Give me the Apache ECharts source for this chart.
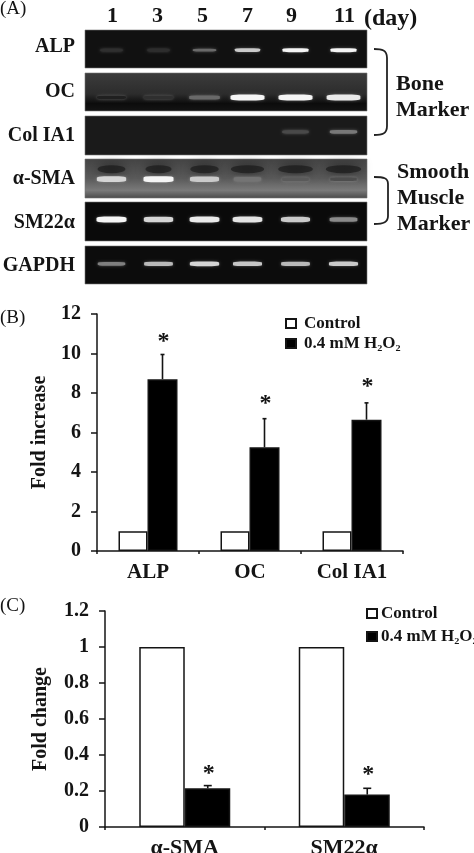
<!DOCTYPE html>
<html><head><meta charset="utf-8">
<style>html,body{margin:0;padding:0;background:#fff;overflow:hidden}#c{width:474px;height:853px;filter:blur(0.45px)}</style>
<script src="https://cdn.jsdelivr.net/npm/echarts@6/dist/echarts.min.js"></script>
</head><body><div id="c"></div>
<script>
// ---- data ----
const days = ['1','3','5','7','9','11'];
const genes = ['ALP','OC','Col IA1','α-SMA','SM22α','GAPDH'];
const alpBand = [0.08,0.07,0.35,0.8,1,1];
const ocBand = [0.01,0.08,0.35,1,1,0.95];
const colBand = [0,0,0,0,0.2,0.42];
const smaBand = [0.85,1,0.8,0.4,0.28,0.22];
const sm22Band = [1,0.85,0.95,0.92,0.8,0.5];
const gapdhBand = [0.45,0.72,0.85,0.78,0.72,0.8];
const nameControl = 'Control';
const nameH2O2 = '0.4 mM H₂O₂';
const catB = ['ALP','OC','Col IA1'];
const controlB = [1,1,1];
const h2o2B = [8.7,5.25,6.65];
const errTopB = [9.95,6.7,7.5];
const starB = [10.8,7.65,8.5];
const catC = ['α-SMA','SM22α'];
const controlC = [1,1];
const h2o2C = [0.215,0.18];
const errTopC = [0.23,0.215];
const starC = [0.32,0.31];

// ---- styling ----
const SERIF = '"Liberation Serif","DejaVu Serif",serif';
const ink = '#141414';
const bandOffset = [-1,4,-4,1,-1,1];
const dayShift = [3,3,2,-2,-1,0];
const dayLabelShift = [4,2,0,-2,-5,1];
const geneLabelShift = [-4,-2,0,1,2,3];
const bandHeight = [4,6,5,6,6,5];
const bandWidth = [26,34,30,30,30,30];
const rows = [[85,30,282,38],[85,73,282,38],[85,116,282,39],[85,159,282,39],[85,202,282,39],[85,246,282,38]];
const rowFill = [
  '#111',
  {type:'linear',x:0,y:0,x2:0,y2:1,colorStops:[{offset:0,color:'#3c3c3c'},{offset:.55,color:'#2c2c2c'},{offset:.8,color:'#0c0c0c'},{offset:1,color:'#141414'}]},
  '#1a1a1a',
  {type:'linear',x:0,y:0,x2:0,y2:1,colorStops:[{offset:0,color:'#444'},{offset:.5,color:'#5a5a5a'},{offset:.8,color:'#7a7a7a'},{offset:1,color:'#4a4a4a'}]},
  '#0a0a0a','#0c0c0c'
];
const bandSets = [alpBand,ocBand,colBand,smaBand,sm22Band,gapdhBand];
const bandData = [];
bandSets.forEach((arr,g)=>arr.forEach((v,d)=>{ if(v>0) bandData.push([d,g,v]); }));
const haloData = smaBand.map((v,d)=>[d,3,v]);
const shade = v => { const c=Math.round(30+215*v); return `rgb(${c},${c},${c})`; };

function errRenderer(half, capW, starFont){
  return function(params, api){
    const top = api.coord([api.value(0), api.value(1)]);
    const base = api.coord([api.value(0), api.value(2)]);
    const star = api.coord([api.value(0), api.value(3)]);
    const x = top[0] + half;
    const st = {stroke:ink, lineWidth:1.6};
    return {type:'group',children:[
      {type:'line',shape:{x1:x,y1:top[1],x2:x,y2:base[1]},style:st},
      {type:'line',shape:{x1:x-capW,y1:top[1],x2:x+capW,y2:top[1]},style:st},
      {type:'text',style:{text:'*',x:x+1,y:star[1]+4,font:`bold ${starFont}px ${SERIF}`,fill:ink,textAlign:'center',textVerticalAlign:'middle'}}
    ]};
  };
}
const valAxis = (idx,o)=>Object.assign({
  type:'value',gridIndex:idx,min:0,
  axisLine:{show:true,lineStyle:{color:ink,width:1.5}},
  axisTick:{show:true,length:6,lineStyle:{color:ink,width:1.5}},
  splitLine:{show:false},
  nameLocation:'middle',
  nameTextStyle:{fontFamily:SERIF,fontWeight:'bold',fontSize:20,color:ink},
},o);
const catAxis = (idx,data,size,margin)=>({
  type:'category',gridIndex:idx,data,
  axisLine:{show:true,onZero:false,lineStyle:{color:ink,width:1.5}},
  axisTick:{show:true,length:3,lineStyle:{color:ink,width:1.5}},
  axisLabel:{fontFamily:SERIF,fontWeight:'bold',fontSize:size,color:ink,margin,interval:0}
});
const legendBase = {
  orient:'vertical',selectedMode:false,icon:'rect',itemWidth:10,itemHeight:9,padding:0,
  data:[nameControl,nameH2O2]
};
const legendText = pad => ({fontFamily:SERIF,fontWeight:'bold',fontSize:17,color:ink,padding:[0,0,0,pad]});
const bar = (name,x,y,data,w,fill)=>({
  type:'bar',name,xAxisIndex:x,yAxisIndex:y,data,barWidth:w,barGap:0,
  itemStyle:{color:fill,borderColor:ink,borderWidth:1.5},animation:false
});
const errSeries = (i,cat,err,val,star,half,cap,font)=>({
  type:'custom',xAxisIndex:i,yAxisIndex:i,z:5,animation:false,silent:true,
  renderItem:errRenderer(half,cap,font),
  encode:{x:0,y:1},
  data:cat.map((c,k)=>[k,err[k],val[k],star[k]])
});
const gText = (text,x,y,size,weight)=>({type:'text',z:6,style:{text,x,y,font:`${weight||'bold'} ${size}px ${SERIF}`,fill:ink,textVerticalAlign:'middle'}});
const stroke = {fill:'none',stroke:'#222',lineWidth:1.8};
const curve = (x1,y1,cpx1,cpy1,cpx2,cpy2,x2,y2)=>({type:'bezierCurve',z:6,shape:{x1,y1,cpx1,cpy1,cpx2,cpy2,x2,y2},style:stroke});
const seg = (x1,y1,x2,y2)=>({type:'line',z:6,shape:{x1,y1,x2,y2},style:stroke});

const graphic = [
  ...rows.map((r,i)=>({type:'rect',z:-1,shape:{x:r[0],y:r[1],width:r[2],height:r[3]},
     style:{fill:rowFill[i],stroke:'#777',lineWidth:0.6}})),
  gText('(A)',0,9,19,'normal'),
  gText('(B)',0,318,19,'normal'),
  gText('(C)',0,606,19,'normal'),
  gText('(day)',364,19,24),
  gText('Bone',396,84,22),
  gText('Marker',396,110,22),
  gText('Smooth',397,172,22),
  gText('Muscle',397,198,22),
  gText('Marker',397,224,22),
  curve(374,49,382,49,387,50,387,58), seg(387,58,387,126), curve(387,126,387,134,382,135,374,135),
  curve(374,177,384,177,388,178,388,184), seg(388,184,388,216), curve(388,216,388,222,384,224,374,224)
];

// per-label nudges, done with rich-text padding so labels stay on the axis
const dayRich = {}, geneRich = {};
dayLabelShift.forEach((s,i)=>{ dayRich['d'+i] = {fontFamily:SERIF,fontWeight:'bold',fontSize:22,color:ink,padding:[0,s<0?-2*s:0,0,s>0?2*s:0]}; });
geneLabelShift.forEach((s,i)=>{ geneRich['g'+i] = {fontFamily:SERIF,fontWeight:'bold',fontSize:20,color:ink,padding:[s>0?2*s:0,0,s<0?-2*s:0,0]}; });

const option = {
  animation:false,
  backgroundColor:'#fff',
  graphic,
  legend:[
    Object.assign({},legendBase,{left:285,top:315,itemGap:3,textStyle:legendText(3)}),
    Object.assign({},legendBase,{left:366,top:605,itemGap:6,textStyle:legendText(-1)})
  ],
  grid:[
    {left:97,right:71,top:314,bottom:302,outerBoundsMode:'none'},
    {left:105,right:50,top:611,bottom:26,outerBoundsMode:'none'},
    {left:85,right:107,top:30,bottom:569,outerBoundsMode:'none'}
  ],
  xAxis:[
    catAxis(0,catB,21,11),
    catAxis(1,catC,22,10),
    {type:'category',gridIndex:2,position:'top',data:days,axisLine:{show:false},axisTick:{show:false},
     axisLabel:{margin:3,interval:0,rich:dayRich,formatter:(v,i)=>`{d${i}|${v}}`}}
  ],
  yAxis:[
    valAxis(0,{max:12,interval:2,name:'Fold increase',nameGap:44,
      axisLabel:{fontFamily:SERIF,fontWeight:'bold',fontSize:20,color:ink,margin:16}}),
    valAxis(1,{max:1.2,interval:0.2,name:'Fold change',nameGap:54,
      axisLabel:{fontFamily:SERIF,fontWeight:'bold',fontSize:20,color:ink,margin:16}}),
    {type:'category',gridIndex:2,inverse:true,data:genes,axisLine:{show:false},axisTick:{show:false},
     axisLabel:{margin:10,interval:0,rich:geneRich,formatter:(v,i)=>`{g${i}|${v}}`}}
  ],
  series:[
    bar(nameControl,0,0,controlB,29,'#fff'),
    bar(nameH2O2,0,0,h2o2B,30,'#000'),
    bar(nameControl,1,1,controlC,45.5,'#fff'),
    bar(nameH2O2,1,1,h2o2C,45.5,'#000'),
    errSeries(0,catB,errTopB,h2o2B,starB,14.5,2,24),
    errSeries(1,catC,errTopC,h2o2C,starC,23,4,24),
    {type:'scatter',xAxisIndex:2,yAxisIndex:2,silent:true,animation:false,z:2,
     data:haloData,symbol:'circle',
     symbolSize:v=>[26+(1-v[2])*12,8],
     symbolOffset:p=>[dayShift[p[0]],-9],
     itemStyle:{color:'#111',shadowBlur:12,shadowColor:'#000',opacity:.55}},
    {type:'scatter',xAxisIndex:2,yAxisIndex:2,silent:true,animation:false,z:3,
     data:bandData,symbol:'roundRect',
     symbolSize:v=>[bandWidth[v[1]]*(0.85+0.15*v[2]),bandHeight[v[1]]*(0.55+0.45*v[2])],
     symbolOffset:p=>[dayShift[p[0]],bandOffset[p[1]]],
     itemStyle:{
       opacity:1,
       color:p=>shade(p.value[2]),
       shadowBlur:3,shadowColor:'rgba(200,200,200,.4)'
     }}
  ]
};
const chart = echarts.init(document.getElementById('c'),null,{renderer:'canvas'});
chart.setOption(option);
</script></body></html>
